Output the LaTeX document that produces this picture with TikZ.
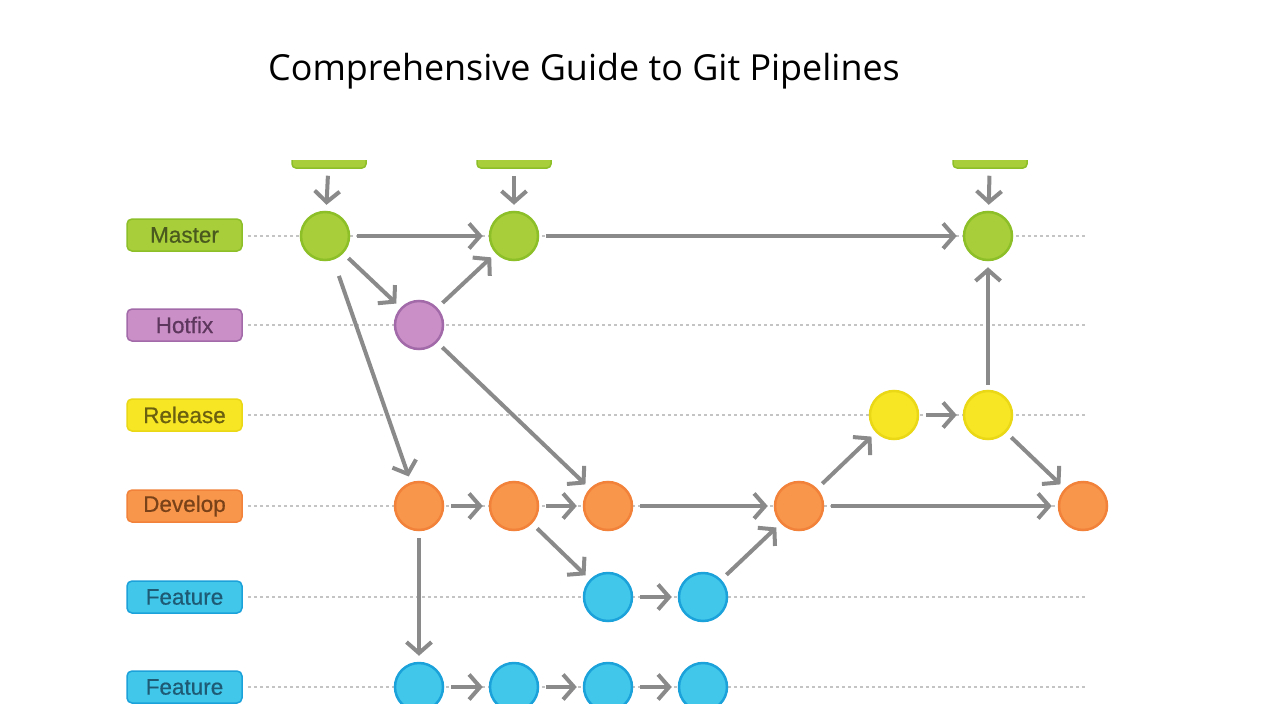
\documentclass[tikz,border=0pt]{standalone}
\usepackage{fontspec}
\setmainfont{Liberation Sans}
\newfontfamily\titlefont{Open Sans}
\newfontfamily\lblfont[FakeBold=0.6]{Liberation Sans}
\usetikzlibrary{arrows.meta}
\definecolor{mfill}{HTML}{A8CF3A}\definecolor{mdraw}{HTML}{8DBF28}\definecolor{mtext}{HTML}{4A5A1E}
\definecolor{hfill}{HTML}{C98FC6}\definecolor{hdraw}{HTML}{A36AA9}\definecolor{htext}{HTML}{5E375E}
\definecolor{rfill}{HTML}{F7E623}\definecolor{rdraw}{HTML}{EAD817}\definecolor{rtext}{HTML}{6A6010}
\definecolor{dfill}{HTML}{F8964C}\definecolor{ddraw}{HTML}{F2823A}\definecolor{dtext}{HTML}{7A4218}
\definecolor{ffill}{HTML}{41C7EA}\definecolor{fdraw}{HTML}{1CA2DA}\definecolor{ftext}{HTML}{1F5A74}
\definecolor{arrgray}{HTML}{8A8A8A}
\definecolor{dotgray}{HTML}{C4C4C4}
\tikzset{
  lbl/.style={draw=#1draw, fill=#1fill, text=#1text, line width=1.5pt, rounded corners=5pt,
    minimum width=115pt, minimum height=32pt, inner sep=0pt, font=\lblfont\fontsize{22.5}{24}\selectfont},
  cmt/.style={circle, draw=#1draw, fill=#1fill, line width=2.5pt, minimum size=48pt, inner sep=0pt},
  tbox/.style={draw=mdraw, fill=mfill, line width=1.5pt, rounded corners=4pt,
    minimum width=74pt, minimum height=30pt, inner sep=0pt},
  arr/.style={draw=arrgray, line width=4pt, -{Straight Barb[length=11pt,width=25pt]},
    shorten <=7pt, shorten >=6pt},
  guide/.style={draw=dotgray, line width=1.3pt, dash pattern=on 3pt off 3pt}
}
\begin{document}
\begin{tikzpicture}[x=1pt,y=-1pt]
\useasboundingbox (0,0) rectangle (1280,720);
\fill[white] (0,0) rectangle (1280,720);
\node[anchor=base west, inner sep=0pt, font=\titlefont\fontsize{35.9}{42}\selectfont] (title) at (268,80) {Comprehensive Guide to Git Pipelines};
\begin{scope}
\clip (0,160) rectangle (1280,703);
% guide lines
\foreach \y/\n in {236/gm,325/gh,415/gr,506/gd,597/gf,687/gg}{
  \coordinate (\n a) at (248,\y);
  \coordinate (\n b) at (1087,\y);
  \draw[guide] (\n a) -- (\n b);
}
% labels
\node[lbl=m] (Lm) at (184.5,235) {Master};
\node[lbl=h] (Lh) at (184.5,325) {Hotfix};
\node[lbl=r] (Lr) at (184.5,415) {Release};
\node[lbl=d] (Ld) at (184.5,506) {Develop};
\node[lbl=f] (Lf) at (184.5,597) {Feature};
\node[lbl=f] (Lg) at (184.5,687) {Feature};
% top boxes
\node[tbox] (T1) at (329,153) {};
\node[tbox] (T2) at (514,153) {};
\node[tbox] (T3) at (990,153) {};
% commits
\node[cmt=m] (M1) at (325,236) {};
\node[cmt=m] (M2) at (514,236) {};
\node[cmt=m] (M3) at (988,236) {};
\node[cmt=h] (H1) at (419,325) {};
\node[cmt=r] (R1) at (894,415) {};
\node[cmt=r] (R2) at (988,415) {};
\node[cmt=d] (D1) at (419,506) {};
\node[cmt=d] (D2) at (514,506) {};
\node[cmt=d] (D3) at (608,506) {};
\node[cmt=d] (D4) at (799,506) {};
\node[cmt=d] (D5) at (1083,506) {};
\node[cmt=f] (F1) at (608,597) {};
\node[cmt=f] (F2) at (703,597) {};
\node[cmt=f] (G1) at (419,687) {};
\node[cmt=f] (G2) at (514,687) {};
\node[cmt=f] (G3) at (608,687) {};
\node[cmt=f] (G4) at (703,687) {};
% arrows
\draw[arr] (T1) -- (M1);
\draw[arr] (T2) -- (M2);
\draw[arr] (T3) -- (M3);
\draw[arr] (M1) -- (M2);
\draw[arr] (M2) -- (M3);
\draw[arr] (M1) -- (H1);
\draw[arr] (H1) -- (M2);
\draw[arr, shorten <=17pt] (M1) -- (D1);
\draw[arr] (H1) -- (D3);
\draw[arr] (D1) -- (D2);
\draw[arr] (D2) -- (D3);
\draw[arr] (D3) -- (D4);
\draw[arr] (D4) -- (D5);
\draw[arr] (D2) -- (F1);
\draw[arr] (F1) -- (F2);
\draw[arr] (F2) -- (D4);
\draw[arr] (D4) -- (R1);
\draw[arr] (R1) -- (R2);
\draw[arr] (R2) -- (D5);
\draw[arr, shorten <=5pt] (R2) -- (M3);
\draw[arr] (D1) -- (G1);
\draw[arr] (G1) -- (G2);
\draw[arr] (G2) -- (G3);
\draw[arr] (G3) -- (G4);
\end{scope}
\end{tikzpicture}
\end{document}
